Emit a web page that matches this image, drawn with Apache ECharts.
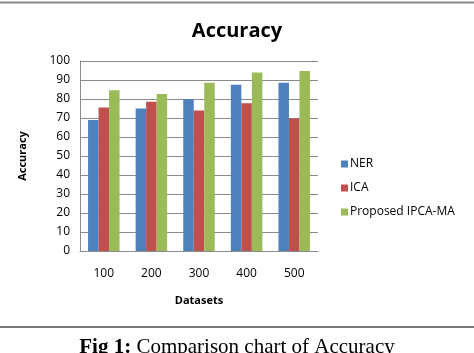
<!DOCTYPE html>
<html>
<head>
<meta charset="utf-8">
<script src="https://cdn.jsdelivr.net/npm/echarts@6/dist/echarts.min.js"></script>
<style>
  html, body { margin: 0; padding: 0; background: #fff; }
  #main { width: 474px; height: 353px; }
</style>
</head>
<body>
<div id="main"></div>
<script>
// data
const datasets = ['100', '200', '300', '400', '500'];
const nerValues = [69, 75, 80, 87.5, 88.6];
const icaValues = [75.5, 78.6, 74, 77.8, 69.7];
const ipcaValues = [84.6, 82.6, 88.6, 93.9, 94.7];
const yTicks = [0, 10, 20, 30, 40, 50, 60, 70, 80, 90, 100];

const chart = echarts.init(document.getElementById('main'));
const font = '"Open Sans", "DejaVu Sans", sans-serif';

chart.setOption({
  animation: false,
  backgroundColor: '#fff',
  title: {
    text: 'Accuracy',
    left: 'center',
    top: 16,
    textStyle: { fontFamily: font, fontSize: 20, fontWeight: 'bold', color: '#000' }
  },
  legend: {
    orient: 'vertical',
    left: 336,
    top: 153,
    itemWidth: 7,
    itemHeight: 7,
    itemGap: 12,
    icon: 'rect',
    textStyle: { fontFamily: font, fontSize: 12, color: '#000', padding: [0, 0, 0, -3] },
    data: ['NER', 'ICA', 'Proposed IPCA-MA']
  },
  grid: { left: 80, right: 156, top: 61, bottom: 102 },
  xAxis: {
    type: 'category',
    data: datasets,
    name: 'Datasets',
    nameLocation: 'middle',
    nameGap: 44,
    nameTextStyle: { fontFamily: font, fontSize: 11, fontWeight: 'bold', color: '#000' },
    axisLine: { lineStyle: { color: '#8a8a8a' } },
    axisTick: { show: false },
    axisLabel: { fontFamily: font, fontSize: 12, color: '#000', margin: 17 }
  },
  yAxis: {
    type: 'value',
    min: yTicks[0],
    max: yTicks[yTicks.length - 1],
    interval: 10,
    name: 'Accuracy',
    nameLocation: 'middle',
    nameGap: 52,
    nameTextStyle: { fontFamily: font, fontSize: 11, fontWeight: 'bold', color: '#000' },
    axisLine: { show: true, lineStyle: { color: '#8a8a8a' } },
    axisTick: { show: false },
    axisLabel: { fontFamily: font, fontSize: 12, color: '#000', margin: 10 },
    splitLine: { lineStyle: { color: '#8a8a8a', width: 1 } }
  },
  series: [
    { name: 'NER', type: 'bar', data: nerValues, barWidth: 10.5, barGap: '0%', itemStyle: { color: '#4F81BD' } },
    { name: 'ICA', type: 'bar', data: icaValues, barWidth: 10.5, barGap: '0%', itemStyle: { color: '#C0504D' } },
    { name: 'Proposed IPCA-MA', type: 'bar', data: ipcaValues, barWidth: 10.5, barGap: '0%', itemStyle: { color: '#9BBB59' } }
  ],
  graphic: [
    { type: 'line', shape: { x1: 0, y1: 2.5, x2: 474, y2: 2.5 }, style: { stroke: '#888', lineWidth: 2 } },
    { type: 'line', shape: { x1: 0, y1: 327, x2: 474, y2: 327 }, style: { stroke: '#777', lineWidth: 2 } },
    {
      type: 'text',
      left: 'center',
      top: 337,
      style: {
        text: '{b|Fig 1:} Comparison chart of Accuracy',
        font: '21px "Liberation Serif", serif',
        fill: '#000',
        rich: { b: { font: 'bold 21px "Liberation Serif", serif', fill: '#000' } }
      }
    }
  ]
});
</script>
</body>
</html>
